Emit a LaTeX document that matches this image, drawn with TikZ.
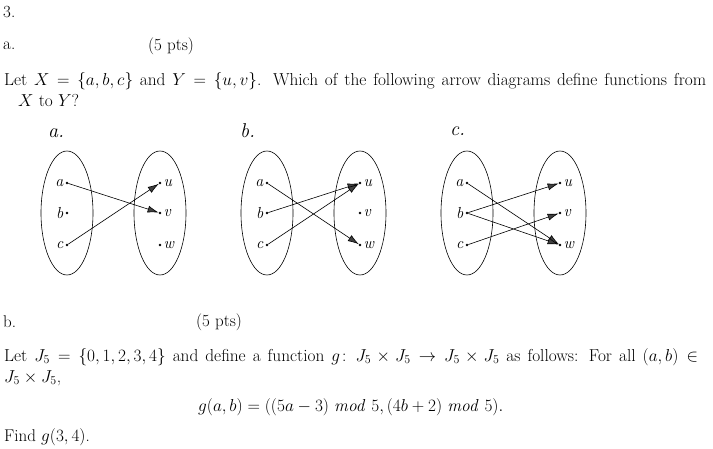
\documentclass[tikz,border=0pt]{standalone}
\usepackage{amsmath}
\usetikzlibrary{arrows.meta}
\begin{document}
\begin{tikzpicture}[x=1pt,y=-1pt,
  txt/.style={anchor=west,inner sep=0pt,font=\fontsize{17}{20}\selectfont},
  par/.style={anchor=west,inner sep=0pt,font=\fontsize{17.3}{21}\selectfont,text width=702pt,align=justify},
  ell/.style={draw,x radius=26pt,y radius=62pt,line width=0.6pt},
  pt/.style={circle,fill,inner sep=0.9pt},
  lab/.style={font=\fontsize{16}{17}\selectfont\itshape,inner sep=1pt},
  arr/.style={-{Latex[length=11pt,width=7pt,fill=gray!50!black]},line width=0.6pt},
  hd/.style={anchor=west,inner sep=0pt,font=\fontsize{20}{22}\selectfont\itshape}]
\useasboundingbox (0,0) rectangle (713,449);
\node[txt] (n3) at (3,12) {3.};
\node[txt] (na) at (3,46) {a.};
\node[txt] (p1) at (148,46) {(5 pts)};
\node[par,anchor=north west] (q1) at (4,72) {Let $X=\{a,b,c\}$ and $Y=\{u,v\}$. Which of the following arrow diagrams define functions from\linebreak\hspace*{14pt}$X$ to $Y$?};
\node[hd] (ha) at (48,133) {a.};
\node[hd] (hb) at (240,131) {b.};
\node[hd] (hc) at (450,131) {c.};
\foreach \n/\lx/\rx in {A/67/160,B/267/360,C/467/560}{
  \draw[ell] (\lx,213) ellipse [];
  \draw[ell] (\rx,213) ellipse [];
  \node[pt] (\n a) at (\lx,183) {}; \node[lab,left=1pt] (\n la) at (\n a.west) {a};
  \node[pt] (\n b) at (\lx,213) {}; \node[lab,left=1pt] (\n lb) at (\n b.west) {b};
  \node[pt] (\n c) at (\lx,245) {}; \node[lab,left=1pt] (\n lc) at (\n c.west) {c};
  \node[pt] (\n u) at (\rx,183) {}; \node[lab,right=1pt] (\n lu) at (\n u.east) {u};
  \node[pt] (\n v) at (\rx,213) {}; \node[lab,right=1pt] (\n lv) at (\n v.east) {v};
  \node[pt] (\n w) at (\rx,245) {}; \node[lab,right=1pt] (\n lw) at (\n w.east) {w};
}
\draw[arr] (Aa) -- (Av); \draw[arr] (Ac) -- (Au);
\draw[arr] (Ba) -- (Bw); \draw[arr] (Bb) -- (Bu); \draw[arr] (Bc) -- (Bu);
\draw[arr] (Ca) -- (Cw); \draw[arr] (Cb) -- (Cu); \draw[arr] (Cb) -- (Cw); \draw[arr] (Cc) -- (Cv);
\node[txt] (nb) at (3,322) {b.};
\node[txt] (p2) at (196,322) {(5 pts)};
\node[par,anchor=north west] (q2) at (4,348) {Let $J_5=\{0,1,2,3,4\}$ and define a function $g\colon\, J_5\times J_5\to J_5\times J_5$ as follows: For all $(a,b)\in{}$\linebreak $J_5\times J_5$,};
\node[txt] (f) at (198,407) {$g(a,b)=((5a-3)\ \mathit{mod}\ 5,(4b+2)\ \mathit{mod}\ 5).$};
\node[txt] (fd) at (4,437) {Find $g(3,4)$.};
\end{tikzpicture}
\end{document}
